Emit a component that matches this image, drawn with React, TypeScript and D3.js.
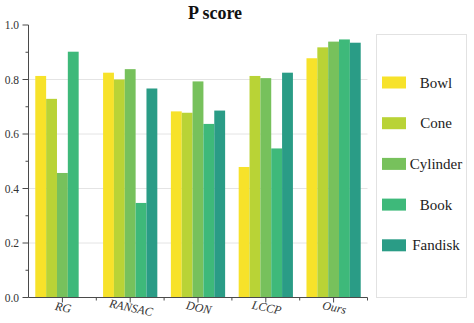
import React from "react";
import * as d3 from "d3";

const categories = ["RG", "RANSAC", "DON", "LCCP", "Ours"];
const seriesNames = ["Bowl", "Cone", "Cylinder", "Book", "Fandisk"];
const bowl = [0.813, 0.825, 0.683, 0.479, 0.878];
const cone = [0.729, 0.8, 0.678, 0.813, 0.918];
const cylinder = [0.457, 0.838, 0.793, 0.805, 0.939];
const book = [0.902, 0.347, 0.637, 0.547, 0.947];
const fandisk = [0, 0.767, 0.686, 0.825, 0.935];
const yTicks = [0, 0.2, 0.4, 0.6, 0.8, 1.0];
const colors = ["#f7e22a", "#b9d336", "#77c15c", "#3eb97a", "#2a9c86"];

const series = [bowl, cone, cylinder, book, fandisk];

export default function App() {
  const W = 474, H = 323;
  const left = 28.5, right = 367.5, top = 25, bottom = 297.5;
  const x = d3.scaleBand().domain(categories).range([left, right]).paddingInner(0.2).paddingOuter(0.1);
  const xs = d3.scaleBand().domain(seriesNames).range([0, x.bandwidth()]);
  const y = d3.scaleLinear().domain([0, 1]).range([bottom, top]);
  const step = x.step();
  const font = "Liberation Serif";
  const legendY0 = 82.5, legendStep = 40.7;
  return (
    <svg width={W} height={H} style={{ position: "absolute", left: 0, top: 0, background: "#fff", fontFamily: font }}>
      <text x={215} y={18.5} textAnchor="middle" style={{ fontFamily: font }} fontWeight="bold" fontSize={18} fill="#111">P score</text>
      {yTicks.filter(t => t > 0 && t < 1).map(t => (
        <line key={"g" + t} x1={left} x2={right} y1={y(t)} y2={y(t)} stroke="#e4e4e4" strokeWidth={1} />
      ))}
      {categories.map((c, ci) => (
        <g key={c}>
          {series.map((s, si) => (
            <rect key={si} x={x(c)! + xs(seriesNames[si])!} width={xs.bandwidth()} y={y(s[ci])} height={y(0) - y(s[ci])} fill={colors[si]} />
          ))}
        </g>
      ))}
      <line x1={left} x2={left} y1={top} y2={bottom} stroke="#4a4a4a" strokeWidth={1} />
      <line x1={left} x2={right} y1={bottom} y2={bottom} stroke="#4a4a4a" strokeWidth={1} />
      {yTicks.map(t => (
        <g key={"t" + t}>
          <line x1={left - 6} x2={left} y1={y(t)} y2={y(t)} stroke="#4a4a4a" />
          <text x={19} y={y(t) + 4} textAnchor="end" style={{ fontFamily: font }} fontSize={11.5} fill="#333">{t.toFixed(1)}</text>
        </g>
      ))}
      {yTicks.slice(0, -1).map(t => (
        <line key={"m" + t} x1={left - 3} x2={left} y1={y(t + 0.1)} y2={y(t + 0.1)} stroke="#4a4a4a" />
      ))}
      {categories.map((c) => {
        const cx = x(c)! + x.bandwidth() / 2;
        return (
          <g key={"x" + c}>
            <line x1={cx} x2={cx} y1={bottom} y2={bottom + 5} stroke="#4a4a4a" />
            <line x1={cx + step / 2} x2={cx + step / 2} y1={bottom} y2={bottom + 3} stroke="#4a4a4a" />
            <text transform={`translate(${cx},${bottom + 14}) rotate(12)`} textAnchor="middle" style={{ fontFamily: font }} fontStyle="italic" fontSize={12} fill="#333">{c}</text>
          </g>
        );
      })}
      <rect x={376.5} y={34.5} width={90} height={263} fill="#fff" stroke="#e2e2e2" strokeWidth={1} />
      {seriesNames.map((n, i) => (
        <g key={"l" + n}>
          <rect x={382} y={legendY0 + i * legendStep - 6} width={24} height={12} fill={colors[i]} />
          <text x={436} y={legendY0 + i * legendStep + 5} textAnchor="middle" style={{ fontFamily: font }} fontSize={15} fill="#222">{n}</text>
        </g>
      ))}
    </svg>
  );
}
